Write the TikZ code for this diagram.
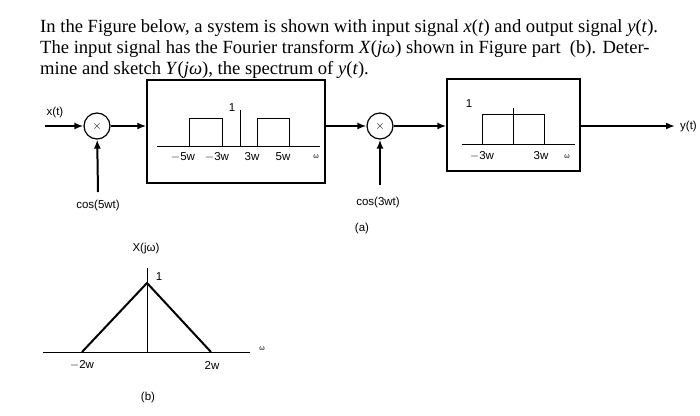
\documentclass[tikz,border=0pt]{standalone}
\usepackage{fontspec}
\setmainfont{Liberation Serif}
\newfontfamily\lab{Liberation Sans}
\usetikzlibrary{arrows.meta}
\begin{document}
\begin{tikzpicture}[x=1pt,y=-1pt,
  lbl/.style={font=\lab\fontsize{11.5}{13}\selectfont,inner sep=0pt},
  thin1/.style={line width=1pt},
  arr/.style={line width=2pt,-{Latex[length=9pt,width=7pt]}},
  mult/.style={circle,draw,line width=1.2pt,minimum size=26pt,inner sep=0pt,font=\lab\fontsize{13}{13}\selectfont},
  blk/.style={draw,line width=1.4pt,inner sep=0pt},
  txt/.style={anchor=base west,inner sep=0pt,font=\fontsize{18.6}{21}\selectfont}]
\useasboundingbox[fill=white] (0,0) rectangle (700,415);
% header
\node[txt] (h1) at (40,32) {In the Figure below, a system is shown with input signal \textit{x}(\textit{t}) and output signal \textit{y}(\textit{t}).};
\node[txt] (h2) at (40,53) {The input signal has the Fourier transform \textit{X}(\textit{jω}) shown in Figure part\ \ (b). Deter-};
\node[txt] (h3) at (40,74) {mine and sketch \textit{Y}(\textit{jω}), the spectrum of \textit{y}(\textit{t}).};
% part (a)
\coordinate (in) at (45,126);
\node[lbl] (xt) at (55,113) {x(t)};
\node[mult] (m1) at (97,126) {$\times$};
\node[blk,minimum width=178pt,minimum height=103pt] (b1) at (236,131.5) {};
\node[mult] (m2) at (380,126) {$\times$};
\node[blk,minimum width=133pt,minimum height=92pt] (b2) at (513.5,125) {};
\coordinate (out) at (675,126);
\node[lbl,anchor=west] (yt) at (680,127) {y(t)};
\node[lbl] (c5) at (98,206) {cos(5wt)};
\node[lbl] (c3) at (378,203) {cos(3wt)};
\node[lbl] (pa) at (362,229) {(a)};
\draw[arr] (in) -- (m1);
\draw[arr] (m1) -- (m1 -| b1.west);
\draw[arr] (m1 -| b1.east) -- (m2);
\draw[arr] (m2) -- (m2 -| b2.west);
\draw[arr] (m2 -| b2.east) -- (out);
\draw[arr] (c5.north |- 0,192) -- (m1);
\draw[arr] (c3.north -| m2) ++(0,-12) -- (m2);
% box1 contents
\draw[thin1] (157,146) -- (320,146);
\draw[thin1] (189,146) |- (222,118) -- (222,146);
\draw[thin1] (257,146) |- (289,118) -- (289,146);
\draw[thin1] (240,110) -- (240,146);
\node[lbl] (one1) at (232,108) {1};
\node[lbl] (l1) at (183,157) {$-$5w};
\node[lbl] (l2) at (217,157) {$-$3w};
\node[lbl] (l3) at (252,157) {3w};
\node[lbl] (l4) at (283,157) {5w};
\node[lbl,font=\lab\scriptsize] (l5) at (316,157) {ω};
% box2 contents
\draw[thin1] (462,144) -- (575,144);
\draw[thin1] (482,144) |- (544,114) -- (544,144);
\draw[thin1] (513,108) -- (513,144);
\node[lbl] (one2) at (469,104) {1};
\node[lbl] (k1) at (482,156) {$-$3w};
\node[lbl] (k2) at (541,156) {3w};
\node[lbl,font=\lab\scriptsize] (k3) at (567,157) {ω};
% part (b)
\draw[thin1] (43,352) -- (250,352);
\draw[thin1] (147,268) -- (147,352);
\draw[line width=2pt] (82,352) -- (147,283) -- (211,352);
\node[lbl] (X) at (146,249) {X(jω)};
\node[lbl] (one3) at (159,277) {1};
\node[lbl] (n2) at (82,365) {$-$2w};
\node[lbl] (p2) at (212,365) {2w};
\node[lbl,font=\lab\scriptsize] (om) at (262,349) {ω};
\node[lbl] (pb) at (148,398) {(b)};
\end{tikzpicture}
\end{document}
